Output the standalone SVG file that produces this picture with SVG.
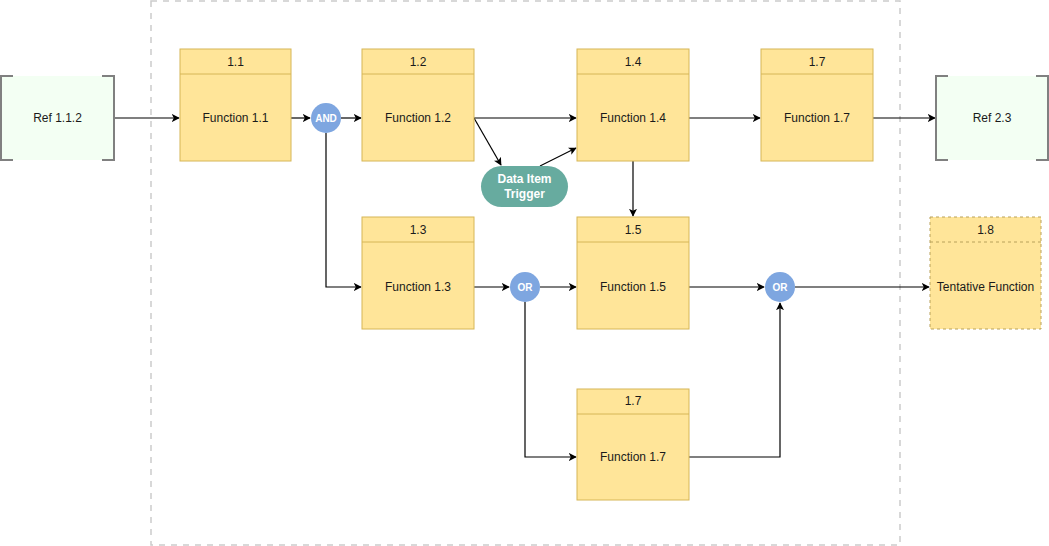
<svg xmlns="http://www.w3.org/2000/svg" width="1049" height="546" viewBox="0 0 1049 546">
<style>
.fn{fill:#FFE599;stroke:#D6B656;stroke-width:1}
.fnd{fill:#FFE599;stroke:#B8A15A;stroke-width:1;stroke-dasharray:3 3}
.t{font-family:"Liberation Sans",Arial,sans-serif;font-size:12px;fill:#1a1a1a;text-anchor:middle;dominant-baseline:central}
.tw{font-family:"Liberation Sans",Arial,sans-serif;font-size:12px;fill:#ffffff;text-anchor:middle;dominant-baseline:central;font-weight:bold}
.gate{fill:#7EA6E0}
.ref{fill:#F3FFF3}
.br{fill:none;stroke:#808080;stroke-width:2}
.c{fill:none;stroke:#000;stroke-width:1.2;marker-end:url(#a)}
</style>
<defs>
<marker id="a" viewBox="0 0 10 10" refX="9" refY="5" markerWidth="8" markerHeight="8" orient="auto" markerUnits="userSpaceOnUse">
<path d="M0,0 L10,5 L0,10 L2.5,5 Z" fill="#000"/>
</marker>
</defs>
<rect x="151" y="1" width="749" height="544" fill="none" stroke="#CCCCCC" stroke-width="1.5" stroke-dasharray="6 6"/>
<g id="connectors">
<path class="c" d="M114,118 H179"/>
<path class="c" d="M291,118 H310"/>
<path class="c" d="M341,118 H361"/>
<path class="c" d="M326,133 V287 H361"/>
<path class="c" d="M474,118 H576"/>
<path class="c" d="M474,118 L501,165"/>
<path class="c" d="M540,166 L576,148"/>
<path class="c" d="M689,118 H760"/>
<path class="c" d="M873,118 H935"/>
<path class="c" d="M633,161 V216"/>
<path class="c" d="M474,287 H509"/>
<path class="c" d="M540,287 H576"/>
<path class="c" d="M525,302 V457 H576"/>
<path class="c" d="M689,287 H764"/>
<path class="c" d="M689,457 H780 V303"/>
<path class="c" d="M795,287 H929"/>
</g>
<g id="ref112">
<rect class="ref" x="1" y="76" width="113" height="84"/>
<path class="br" d="M13,76 H1 V160 H13 M102,76 H114 V160 H102"/>
<text class="t" x="57.5" y="118">Ref 1.1.2</text>
</g>
<g id="f11">
<rect class="fn" x="180" y="49" width="111" height="112"/>
<line x1="180" y1="74" x2="291" y2="74" stroke="#D6B656"/>
<text class="t" x="235.5" y="62">1.1</text>
<text class="t" x="235.5" y="118">Function 1.1</text>
</g>
<g id="and">
<circle class="gate" cx="326" cy="118" r="15"/>
<text class="tw" x="326" y="118" font-size="10" style="font-size:10px">AND</text>
</g>
<g id="f12">
<rect class="fn" x="362" y="49" width="112" height="112"/>
<line x1="362" y1="74" x2="474" y2="74" stroke="#D6B656"/>
<text class="t" x="418" y="62">1.2</text>
<text class="t" x="418" y="118">Function 1.2</text>
</g>
<g id="f14">
<rect class="fn" x="577" y="49" width="112" height="112"/>
<line x1="577" y1="74" x2="689" y2="74" stroke="#D6B656"/>
<text class="t" x="633" y="62">1.4</text>
<text class="t" x="633" y="118">Function 1.4</text>
</g>
<g id="f17">
<rect class="fn" x="761" y="49" width="112" height="112"/>
<line x1="761" y1="74" x2="873" y2="74" stroke="#D6B656"/>
<text class="t" x="817" y="62">1.7</text>
<text class="t" x="817" y="118">Function 1.7</text>
</g>
<g id="ref23">
<rect class="ref" x="936" y="76" width="112" height="84"/>
<path class="br" d="M948,76 H936 V160 H948 M1036,76 H1048 V160 H1036"/>
<text class="t" x="992" y="118">Ref 2.3</text>
</g>
<g id="trigger">
<rect x="481" y="166" width="87" height="41" rx="20.5" fill="#67AB9F"/>
<text class="tw" x="524.5" y="179">Data Item</text>
<text class="tw" x="524.5" y="194">Trigger</text>
</g>
<g id="f13">
<rect class="fn" x="362" y="217" width="112" height="112"/>
<line x1="362" y1="242" x2="474" y2="242" stroke="#D6B656"/>
<text class="t" x="418" y="230">1.3</text>
<text class="t" x="418" y="287">Function 1.3</text>
</g>
<g id="or1">
<circle class="gate" cx="525" cy="287" r="15"/>
<text class="tw" x="525" y="287" style="font-size:10px">OR</text>
</g>
<g id="f15">
<rect class="fn" x="577" y="217" width="112" height="112"/>
<line x1="577" y1="242" x2="689" y2="242" stroke="#D6B656"/>
<text class="t" x="633" y="230">1.5</text>
<text class="t" x="633" y="287">Function 1.5</text>
</g>
<g id="or2">
<circle class="gate" cx="780" cy="287" r="15"/>
<text class="tw" x="780" y="287" style="font-size:10px">OR</text>
</g>
<g id="f18">
<rect class="fnd" x="930" y="217" width="111" height="112"/>
<line x1="930" y1="242" x2="1041" y2="242" stroke="#B8A15A" stroke-dasharray="3 3"/>
<text class="t" x="985.5" y="230">1.8</text>
<text class="t" x="985.5" y="287">Tentative Function</text>
</g>
<g id="f17b">
<rect class="fn" x="577" y="389" width="112" height="111"/>
<line x1="577" y1="414" x2="689" y2="414" stroke="#D6B656"/>
<text class="t" x="633" y="401">1.7</text>
<text class="t" x="633" y="457">Function 1.7</text>
</g>
</svg>
